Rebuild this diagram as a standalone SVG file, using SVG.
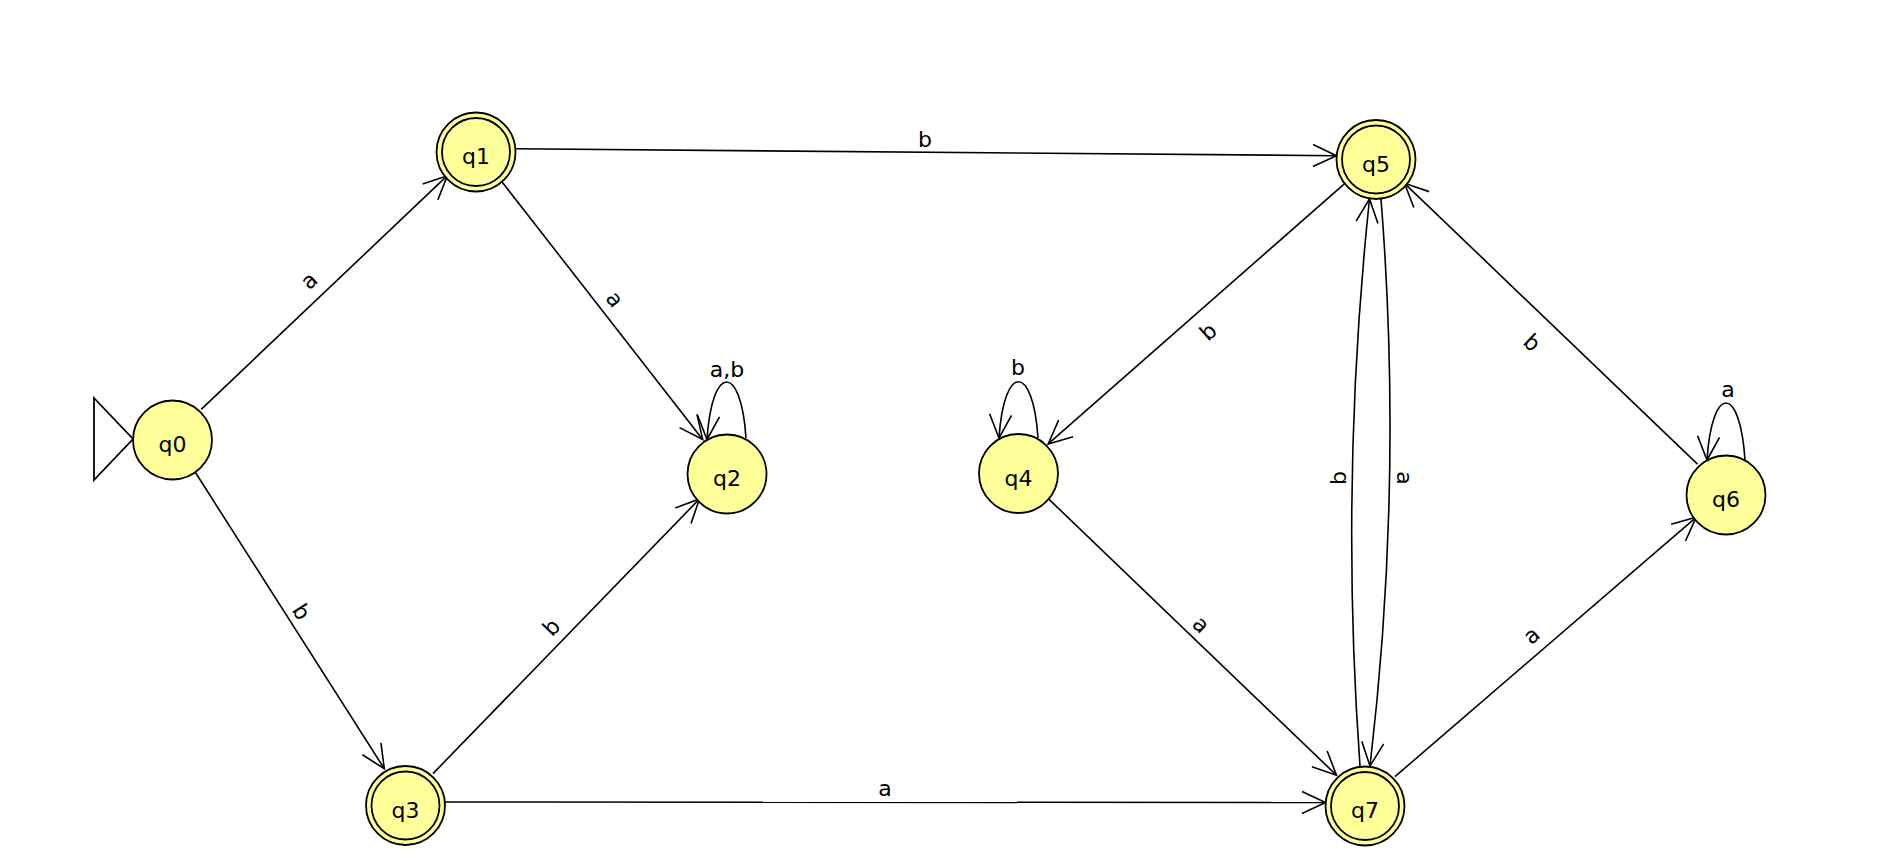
<svg xmlns="http://www.w3.org/2000/svg" width="1883" height="861" viewBox="0 0 1883 861">
<style>
.node circle{fill:#ffff99;stroke:#000;stroke-width:1.8}
.node text,.lbl{font-family:"DejaVu Sans","Liberation Sans",sans-serif;font-size:22px;fill:#000;text-anchor:middle}
.edge{fill:none;stroke:#000;stroke-width:1.6;marker-end:url(#arr)}
.init{fill:#fff;stroke:#000;stroke-width:1.8}
</style>
<defs>
<marker id="arr" markerUnits="userSpaceOnUse" viewBox="-30 -15 32 30" markerWidth="32" markerHeight="30" refX="0" refY="0" orient="auto" overflow="visible">
<path d="M-23.5,-11 L0,0 L-23.5,11" fill="none" stroke="#000" stroke-width="1.6"/>
</marker>
</defs>
<rect width="1883" height="861" fill="#fff"/>
<g id="connectors">
<path class="edge" d="M201.2,409.3 L447.3,175.7"/>
<path class="edge" d="M193.7,469.8 L384.3,768.7"/>
<path class="edge" d="M500.3,179.7 L702.7,439.4"/>
<path class="edge" d="M515.5,148.8 L1336.5,155.7"/>
<path class="edge" d="M433,773.6 L699.5,498.9"/>
<path class="edge" d="M445,802 L1325.5,802.5"/>
<path class="edge" d="M1346.3,182.1 L1048.2,443.9"/>
<path class="edge" d="M1047,497.4 L1336.5,775.2"/>
<path class="edge" d="M1697.5,464.2 L1404.5,183.3"/>
<path class="edge" d="M1394.9,776.7 L1696.1,517.3"/>
<path class="edge" d="M1360,766 Q1339.5,482 1369.5,199"/>
<path class="edge" d="M1381,199 Q1403.5,482 1370,766"/>
<path class="edge" d="M746,438 C741,363 712,363 707,439.5"/>
<path class="edge" d="M1038,438 C1033,363 1004,363 999,438"/>
<path class="edge" d="M1745,460 C1740,384 1712,384 1707,460"/>
<text class="lbl" transform="translate(310,281.7) rotate(-43.6)" y="6">a</text>
<text class="lbl" transform="translate(301.7,611.7) rotate(57.5)" y="8">b</text>
<text class="lbl" transform="translate(613.6,300.2) rotate(52.1)" y="6">a</text>
<text class="lbl" transform="translate(551,627) rotate(-45.9)" y="8">b</text>
<text class="lbl" x="925" y="146.7">b</text>
<text class="lbl" x="885" y="796">a</text>
<text class="lbl" transform="translate(1208,331.5) rotate(-41.3)" y="8">b</text>
<text class="lbl" transform="translate(1200,625.7) rotate(43.8)" y="6">a</text>
<text class="lbl" transform="translate(1532.4,342.3) rotate(43.8)" y="8">b</text>
<text class="lbl" transform="translate(1532.4,636.5) rotate(-40.7)" y="6">a</text>
<text class="lbl" transform="translate(1337.8,478) rotate(-90)" y="8">b</text>
<text class="lbl" transform="translate(1402.6,478) rotate(90)" y="6">a</text>
<text class="lbl" x="727" y="376.7">a,b</text>
<text class="lbl" x="1018" y="375">b</text>
<text class="lbl" x="1728" y="397">a</text>
</g>
<g id="initial">
<polygon class="init" points="94,398 133,439 94,480"/>
</g>
<g id="q0" class="node"><circle cx="172.5" cy="440" r="39.5"/><text x="172.5" y="452">q0</text></g>
<g id="q1" class="node"><circle cx="476" cy="152" r="39.5"/><circle cx="476" cy="152" r="34"/><text x="476" y="164">q1</text></g>
<g id="q2" class="node"><circle cx="727" cy="474" r="39.5"/><text x="727" y="486">q2</text></g>
<g id="q3" class="node"><circle cx="405.5" cy="805.5" r="39.5"/><circle cx="405.5" cy="805.5" r="34"/><text x="405.5" y="817.5">q3</text></g>
<g id="q4" class="node"><circle cx="1018.5" cy="473.5" r="39.5"/><text x="1018.5" y="485.5">q4</text></g>
<g id="q5" class="node"><circle cx="1376" cy="159.5" r="39.5"/><circle cx="1376" cy="159.5" r="34"/><text x="1376" y="171.5">q5</text></g>
<g id="q6" class="node"><circle cx="1726" cy="495" r="39.5"/><text x="1726" y="507">q6</text></g>
<g id="q7" class="node"><circle cx="1365" cy="806" r="39.5"/><circle cx="1365" cy="806" r="34"/><text x="1365" y="818">q7</text></g>
</svg>
